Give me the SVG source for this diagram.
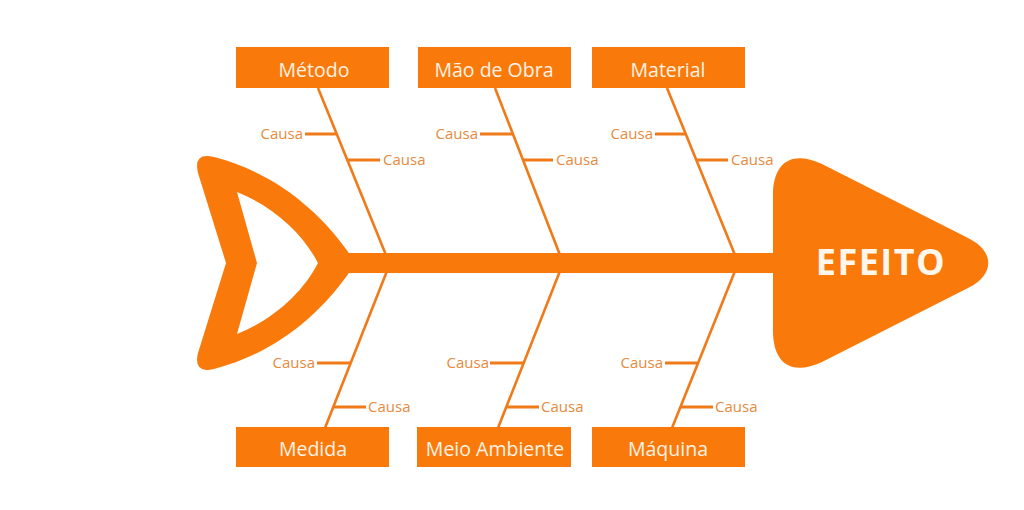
<svg xmlns="http://www.w3.org/2000/svg" width="1024" height="510" viewBox="0 0 1024 510">
<style>
.box{fill:#F97A0A}
.lbl{font-family:"Open Sans","Liberation Sans",sans-serif;font-size:19.5px;fill:#FFF3E6;text-anchor:middle}
.bone{stroke:#F07A18;stroke-width:2.6;fill:none}
.tick{stroke:#F07A18;stroke-width:3;fill:none}
.c{font-family:"Open Sans","Liberation Sans",sans-serif;font-size:15px;fill:#E58A3E}
.r{text-anchor:end}
.shape{fill:#F97A0A}
.eff{font-family:"Open Sans","Liberation Sans",sans-serif;font-size:36px;font-weight:bold;letter-spacing:1.5px;fill:#FFF6EC;text-anchor:middle}
</style>
<rect width="1024" height="510" fill="#FFFFFF"/>

<g id="connectors">
<line class="bone" x1="318" y1="88" x2="386" y2="255"/>
<line class="bone" x1="495" y1="88" x2="560" y2="255"/>
<line class="bone" x1="667" y1="88" x2="735" y2="255"/>
<line class="bone" x1="387" y1="271" x2="325" y2="428"/>
<line class="bone" x1="560" y1="271" x2="498" y2="428"/>
<line class="bone" x1="735" y1="271" x2="672" y2="428"/>
<line class="tick" x1="305" y1="134" x2="337" y2="134"/>
<line class="tick" x1="347" y1="160" x2="380" y2="160"/>
<line class="tick" x1="480" y1="134" x2="513" y2="134"/>
<line class="tick" x1="523" y1="160" x2="553" y2="160"/>
<line class="tick" x1="655" y1="134" x2="686" y2="134"/>
<line class="tick" x1="697" y1="160" x2="728" y2="160"/>
<line class="tick" x1="317" y1="363" x2="351" y2="363"/>
<line class="tick" x1="333" y1="407" x2="366" y2="407"/>
<line class="tick" x1="490" y1="363" x2="523" y2="363"/>
<line class="tick" x1="506" y1="407" x2="539" y2="407"/>
<line class="tick" x1="665" y1="363" x2="698" y2="363"/>
<line class="tick" x1="680" y1="407" x2="713" y2="407"/>
</g>

<g id="causes">
<text class="c r" x="303" y="139">Causa</text>
<text class="c" x="383" y="165">Causa</text>
<text class="c r" x="478" y="139">Causa</text>
<text class="c" x="556" y="165">Causa</text>
<text class="c r" x="653" y="139">Causa</text>
<text class="c" x="731" y="165">Causa</text>
<text class="c r" x="315" y="368">Causa</text>
<text class="c" x="368" y="412">Causa</text>
<text class="c r" x="489" y="368">Causa</text>
<text class="c" x="541" y="412">Causa</text>
<text class="c r" x="663" y="368">Causa</text>
<text class="c" x="715" y="412">Causa</text>
</g>

<g id="spine">
<rect class="shape" x="338" y="253" width="445" height="20"/>
</g>

<g id="tail">
<path class="shape" fill-rule="evenodd" d="M 351,256 C 318,208 272,172 214,157 Q 193,152 198,173 L 226,263 L 198,353 Q 193,374 214,369 C 272,354 318,318 351,270 Z M 237,192 C 272,206 302,232 318,263 C 302,294 272,320 237,334 L 257,263 Z"/>
</g>

<g id="efeito">
<path class="shape" d="M 773,195 C 773,162 792,150 822,164 L 968,238 C 995,251 995,275 968,288 L 822,362 C 792,376 773,364 773,331 Z"/>
<text class="eff" x="881" y="275">EFEITO</text>
</g>

<g id="metodo"><rect class="box" x="236" y="47" width="153" height="41"/><text class="lbl" x="314" y="76.5">Método</text></g>
<g id="mao-de-obra"><rect class="box" x="418" y="47" width="153" height="41"/><text class="lbl" x="494" y="76.5">Mão de Obra</text></g>
<g id="material"><rect class="box" x="592" y="47" width="153" height="41"/><text class="lbl" x="668" y="76.5">Material</text></g>
<g id="medida"><rect class="box" x="236" y="427" width="153" height="40"/><text class="lbl" x="313" y="456">Medida</text></g>
<g id="meio-ambiente"><rect class="box" x="417" y="427" width="154" height="40"/><text class="lbl" x="495" y="456">Meio Ambiente</text></g>
<g id="maquina"><rect class="box" x="592" y="427" width="153" height="40"/><text class="lbl" x="668" y="456">Máquina</text></g>
</svg>
